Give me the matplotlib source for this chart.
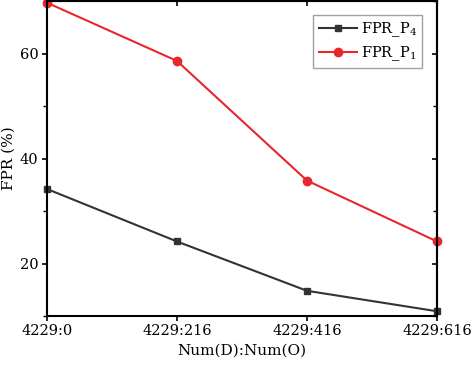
import numpy as np
import matplotlib.pyplot as plt
from matplotlib.ticker import MultipleLocator

# data
categories = ["4229:0", "4229:216", "4229:416", "4229:616"]
fpr_p4 = [34.2, 24.2, 14.8, 10.9]
fpr_p1 = [69.7, 58.6, 35.8, 24.2]

plt.rcParams['font.family'] = ['DejaVu Serif']
plt.rcParams['mathtext.fontset'] = 'dejavuserif'

fig = plt.figure(figsize=(4.74, 3.67), dpi=100)
ax = fig.add_axes([0.099, 0.139, 0.823, 0.858])

x = np.arange(len(categories))
ax.plot(x, fpr_p4, color='#333333', marker='s', markersize=5, linewidth=1.5,
        label=r'FPR_P$_{\mathit{4}}$', clip_on=False)
ax.plot(x, fpr_p1, color='#e8262b', marker='o', markersize=6, linewidth=1.5,
        label=r'FPR_P$_{\mathit{1}}$', clip_on=False)

ax.set_xlim(0, 3)
ax.set_ylim(10, 70)
ax.set_xticks(x)
ax.set_xticklabels(categories)
ax.set_yticks([20, 40, 60])
ax.yaxis.set_minor_locator(MultipleLocator(10))
ax.tick_params(axis='both', which='major', labelsize=10.5, length=3.5, width=1.2,
               direction='out', pad=2.5)
ax.tick_params(axis='y', which='minor', length=3, width=1.0, direction='out')

# mirrored ticks on top/right pointing inward
ax2 = ax.secondary_xaxis('top')
ax2.set_xticks(x)
ax2.tick_params(direction='in', length=3.5, width=1.2, labeltop=False)
ay2 = ax.secondary_yaxis('right')
ay2.set_yticks([20, 40, 60])
ay2.yaxis.set_minor_locator(MultipleLocator(10))
ay2.tick_params(which='major', direction='in', length=3.5, width=1.2, labelright=False)
ay2.tick_params(which='minor', direction='in', length=3, width=1.0)

for s in ax.spines.values():
    s.set_linewidth(1.5)
for s in list(ax2.spines.values()) + list(ay2.spines.values()):
    s.set_linewidth(1.5)

ax.set_xlabel('Num(D):Num(O)', fontsize=11, labelpad=4)
ax.set_ylabel('FPR (%)', fontsize=11, labelpad=3)

leg = ax.legend(loc='upper right', bbox_to_anchor=(0.97, 0.965), fontsize=10.5,
                fancybox=False, edgecolor='#888888', handlelength=2.6,
                borderpad=0.35, labelspacing=0.35, handletextpad=0.3,
                borderaxespad=0.2)
leg.get_frame().set_linewidth(1.0)

fig.savefig('out.png', dpi=100)
